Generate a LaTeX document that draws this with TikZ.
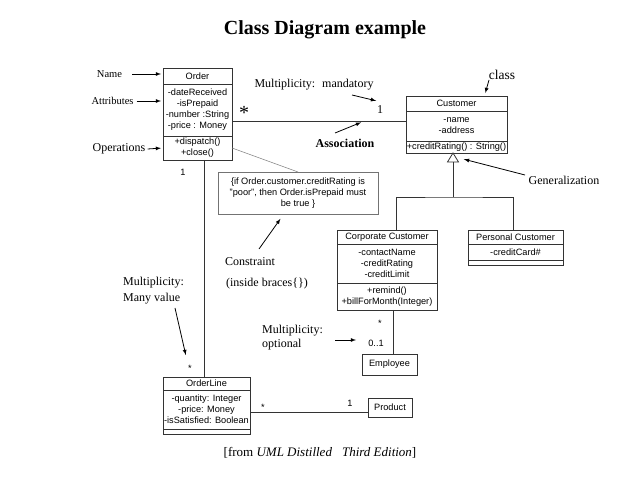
\documentclass[tikz,border=0pt]{standalone}
\usepackage{fontspec}
\setmainfont{Liberation Serif}
\setsansfont{Liberation Sans}
\usetikzlibrary{positioning}

\begin{document}
\begin{tikzpicture}[x=1pt,y=-1pt]
  \useasboundingbox (0,0) rectangle (638,478);
  \tikzstyle{part} = [draw=black!80,line width=0.8pt,inner sep=0pt,outer sep=0pt,align=center,
    font=\sffamily\fontsize{9.2}{11}\selectfont]
  \tikzstyle{mult} = [inner sep=0pt,font=\sffamily\fontsize{9.2}{11}\selectfont]
  \tikzstyle{lbl} = [inner sep=0pt,font=\fontsize{12}{16}\selectfont]
  \tikzstyle{link} = [draw=black!80,line width=0.8pt]
  \tikzstyle{pointer} = [-latex,line width=0.8pt,shorten >=1pt]

  \node[lbl,font=\fontsize{20}{24}\selectfont\bfseries] (title) at (325,30) {Class Diagram example};

  % classes
  \node[part,minimum width=69,minimum height=16] (ordname) at (197.5,76) {Order};
  \node[part,minimum width=69,minimum height=52,below=0pt of ordname] (ordatt)
    {-dateReceived\\-isPrepaid\\-number :String\\-price : Money};
  \node[part,minimum width=69,minimum height=24,below=0pt of ordatt] (ordops) {+dispatch()\\+close()};

  \node[part,minimum width=101,minimum height=15] (custname) at (456.5,103.5) {Customer};
  \node[part,minimum width=101,minimum height=30,below=0pt of custname] (custatt) {-name\\-address};
  \node[part,minimum width=101,minimum height=12,below=0pt of custatt] (custops) {+creditRating() : String()};

  \node[part,minimum width=100,minimum height=14] (corpname) at (387,237) {Corporate Customer};
  \node[part,minimum width=100,minimum height=39,below=0pt of corpname] (corpatt)
    {-contactName\\-creditRating\\-creditLimit};
  \node[part,minimum width=100,minimum height=27,below=0pt of corpatt] (corpops)
    {+remind()\\+billForMonth(Integer)};

  \node[part,minimum width=95,minimum height=14] (persname) at (515.5,237) {Personal Customer};
  \node[part,minimum width=95,minimum height=16,below=0pt of persname] (persatt) {-creditCard\#};
  \node[part,minimum width=95,minimum height=5,below=0pt of persatt] (persops) {};

  \node[part,minimum width=87,minimum height=13] (olname) at (206.5,383.5) {OrderLine};
  \node[part,minimum width=87,minimum height=39,below=0pt of olname] (olatt)
    {-quantity: Integer\\-price: Money\\-isSatisfied: Boolean};
  \node[part,minimum width=87,minimum height=5,below=0pt of olatt] (olops) {};

  \node[part,minimum width=55,minimum height=21] (emp) at (389.5,364.5) {Employee};
  \node[part,minimum width=44,minimum height=19] (prod) at (390,407.5) {Product};

  % note
  \node[part,draw=black!55,minimum width=160,minimum height=42] (note) at (298,193)
    {\{if Order.customer.creditRating is\\"poor", then Order.isPrepaid must\\be true \}};
  \draw[black!45,line width=0.6pt] (ordops.east) -- (note.north);

  % associations
  \draw[link] (ordatt.east |- 0,121) -- (custatt.west |- 0,121);
  \draw[link] (ordops.south -| 204,0) -- (olname.north -| 204,0);
  \draw[link] (olatt.east |- 0,412) -- (prod.west |- 0,412);
  \draw[link] (corpops.south -| 393,0) -- (emp.north -| 393,0);

  % generalization
  \coordinate (genjoin) at (453,197);
  \draw[link,fill=white] (custops.south -| genjoin) -- ++(-5.5,9) -- ++(11,0) -- cycle;
  \draw[link] (custops.south -| genjoin) ++(0,9) -- (genjoin);
  \draw[link] (corpname.north -| 396,0) |- (genjoin) -| (persname.north -| 513,0);

  % multiplicities
  \node[inner sep=0pt,font=\fontsize{20}{24}\selectfont] (ordmany) at (244,112.5) {*};
  \node[lbl] (custone) at (380,110) {1};
  \node[mult] (ordone) at (183,172) {1};
  \node[mult] (olmany) at (190,368) {*};
  \node[mult] (prodmany) at (263,407) {*};
  \node[mult] (prodone) at (350,403) {1};
  \node[mult] (empmany) at (380,323) {*};
  \node[mult] (empopt) at (376,343) {0..1};

  % labels and pointers
  \node[lbl,font=\fontsize{10.5}{12}\selectfont] (lname) at (109.5,74) {Name};
  \node[lbl,font=\fontsize{10.5}{12}\selectfont] (lattr) at (112.5,101) {Attributes};
  \node[lbl] (lops) at (119,149) {Operations};
  \coordinate (attrtip) at (ordatt.west |- 0,101);
  \draw[pointer,shorten >=2pt] ([xshift=10]lname.east) -- (ordname.west |- 0,74);
  \draw[pointer,shorten >=2pt] ([xshift=3]lattr.east) -- (attrtip);
  \draw[pointer,shorten >=2pt] ([xshift=2]lops.east) -- (ordops.west);

  \node[lbl] (lmand) at (314,85) {Multiplicity:\hspace{7pt}mandatory};
  \coordinate (mandtail) at (352,95);
  \coordinate (mandtip) at (377,101);
  \draw[pointer] (mandtail) -- (mandtip);

  \node[lbl,font=\fontsize{12}{16}\selectfont\bfseries] (lassoc) at (345,143) {Association};
  \coordinate (assoctail) at (335,133);
  \coordinate (assoctip) at (362,122);
  \draw[pointer] (assoctail) -- (assoctip);

  \node[lbl,font=\fontsize{13.5}{16}\selectfont] (lclass) at (502,75) {class};
  \coordinate (classtail) at (489,80);
  \coordinate (classtip) at (485,94);
  \draw[pointer] (classtail) -- (classtip);

  \node[lbl] (lgen) at (564,180) {Generalization};
  \coordinate (gentail) at (525,175);
  \coordinate (gentip) at (463,159);
  \draw[pointer] (gentail) -- (gentip);

  \node[lbl] (lcons) at (250,262) {Constraint};
  \node[lbl] (lbrace) at (267,284) {(inside braces\{\})};
  \coordinate (constail) at (259,249);
  \coordinate (constip) at (281,218);
  \draw[pointer] (constail) -- (constip);

  \node[lbl,align=left,anchor=west] (lmany) at (123,291) {Multiplicity:\\Many value};
  \coordinate (manytail) at (175,308);
  \coordinate (manytip) at (186,356);
  \draw[pointer] (manytail) -- (manytip);

  \node[lbl,align=left,anchor=west,font=\fontsize{12}{14}\selectfont] (lopt) at (262,338) {Multiplicity:\\optional};
  \coordinate (opttail) at (335,340);
  \coordinate (opttip) at (357,340);
  \draw[pointer] (opttail) -- (opttip);

  \node[lbl,font=\fontsize{13}{16}\selectfont] (caption) at (320,453)
    {[from \textit{UML Distilled}\hspace{10pt}\textit{Third Edition}]};
\end{tikzpicture}
\end{document}
